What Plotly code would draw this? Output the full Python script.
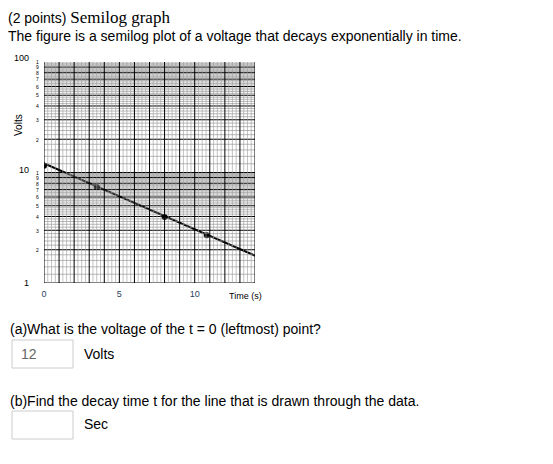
import numpy as np
import plotly.graph_objects as go

t_data = [0, 3.5, 8.0, 10.8]
v_data = [11.5, 7.4, 3.95, 2.7]
t_line = [-0.3, 14.5]
v_line = [12.6, 1.65]
x_ticks = [0, 5, 10]
y_digit_labels = ["1", "9", "8", "7", "6", "5", "4", "3", "2"]
y_digit_vals = [1, 0.9, 0.8, 0.7, 0.6, 0.5, 0.4, 0.3, 0.2]

OFF = 8  # page body margin
W, H = 553 - OFF, 464 - OFF
L, R, T, B = 44 - OFF, 255 - OFF, 62 - OFF, 283 - OFF
fig = go.Figure()

def px(x): return (x - OFF - L) / (R - L)
def py(y): return (B - (y - OFF)) / (B - T)

shapes = []
for dec in [1, 10]:
    for k in np.arange(1.0, 10.0, 0.2):
        v = dec * k
        digit = abs(k - round(k)) < 1e-6
        shapes.append(dict(type="line", xref="paper", yref="y", x0=0, x1=1, y0=v, y1=v,
                           line=dict(color="black" if digit else "#888", width=1 if digit else 0.6)))
for tv in np.arange(0, 14.01, 0.25):
    major = abs(tv - round(tv)) < 1e-6
    shapes.append(dict(type="line", xref="x", yref="paper", x0=tv, x1=tv, y0=0, y1=1,
                       line=dict(color="black" if major else "#999", width=1 if major else 0.6)))
for y0 in [340, 411]:
    shapes.append(dict(type="rect", xref="paper", yref="paper",
                       x0=px(12), x1=px(73), y0=py(y0), y1=py(y0 + 28),
                       line=dict(color="#ccc", width=1), fillcolor="white"))

fig.add_trace(go.Scatter(x=t_line, y=v_line, mode="lines", line=dict(color="black", width=2),
                         cliponaxis=False, showlegend=False))
fig.add_trace(go.Scatter(x=t_data, y=v_data, mode="markers", marker=dict(color="black", size=6),
                         showlegend=False))

ann = []
def A(x, y, text, size=12, xa="left", family="Helvetica, Liberation Sans, Arial", color="black", angle=0):
    ann.append(dict(xref="paper", yref="paper", x=px(x), y=py(y), text=text, showarrow=False,
                    xanchor=xa, yanchor="middle", font=dict(size=size, family=family, color=color),
                    textangle=angle))

A(6, 17, "(2 points) <span style='font-family:Liberation Serif;font-size:17px'>Semilog graph</span>", 14)
A(6, 36, "The figure is a semilog plot of a voltage that decays exponentially in time.", 14)
for yv, lab in zip([58, 170, 283], ["100", "10", "1"]):
    A(31, yv, lab, 9, xa="right")
for dec_top, dec_bot in [(62, 173), (173, 283)]:
    for lab, fr in zip(y_digit_labels, y_digit_vals):
        yy = dec_bot - np.log10(fr * 10) * (dec_bot - dec_top)
        A(41, yy, lab, 5, xa="right")
A(18, 125, "Volts", 10, xa="center", angle=-90)
A(245, 296, "Time (s)", 9, xa="center")
A(8, 329, "(a)What is the voltage of the t = 0 (leftmost) point?", 14)
A(19, 354, "12", 14, color="#666")
A(82, 354, "Volts", 14)
A(8, 401, "(b)Find the decay time t for the line that is drawn through the data.", 14)
A(82, 424, "Sec", 14)

fig.update_layout(
    width=W, height=H, autosize=False, margin=dict(l=L, r=W - R, t=T, b=H - B),
    paper_bgcolor="white", plot_bgcolor="white", shapes=shapes, annotations=ann,
    xaxis=dict(range=[0, 14], tickvals=x_ticks, showgrid=False, zeroline=False,
               tickfont=dict(size=9, family="Helvetica, Liberation Sans"), ticks="", ticklabelstandoff=4),
    yaxis=dict(type="log", range=[0, 2], showticklabels=False, showgrid=False, zeroline=False, ticks=""),
)
fig.write_html("out.html")
